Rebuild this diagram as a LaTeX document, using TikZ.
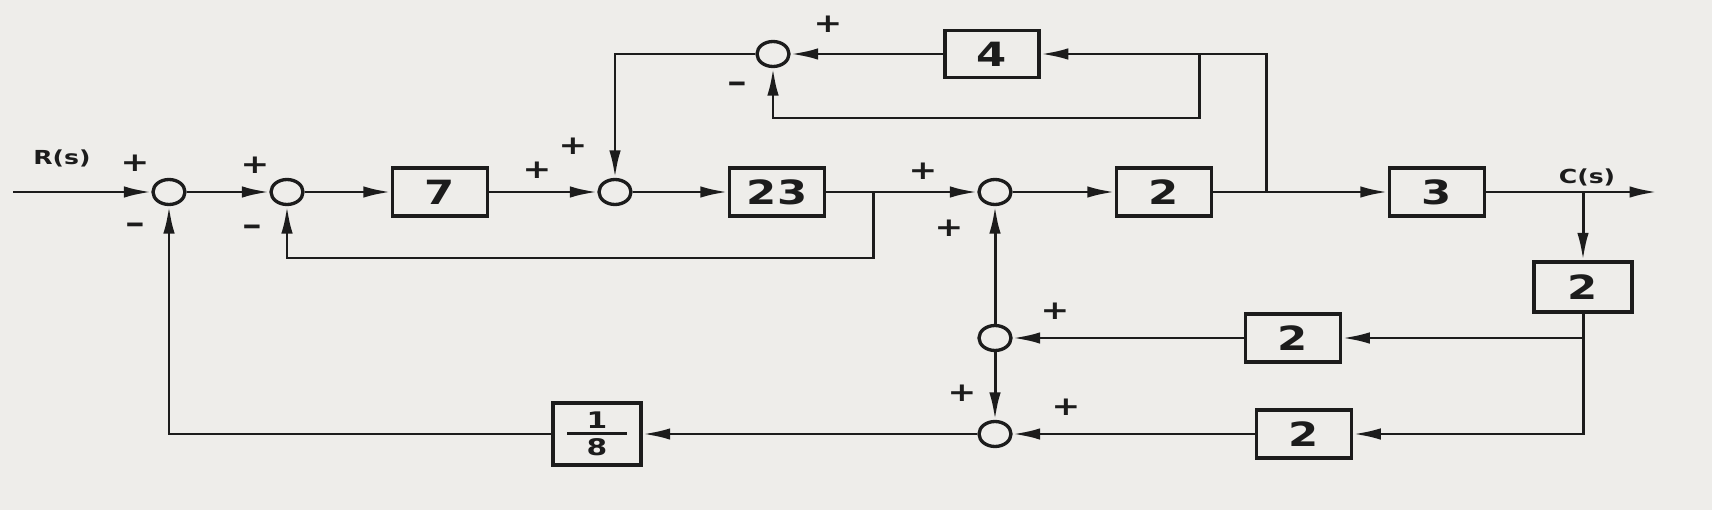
\documentclass[tikz,border=0pt]{standalone}
\usepackage{fontspec}
\setmainfont{DejaVu Sans}
\usetikzlibrary{arrows.meta,shapes.geometric}
\definecolor{paper}{RGB}{238,237,234}
\definecolor{ink}{RGB}{28,28,28}
\newcommand{\wtxt}[1]{\scalebox{1.3}[1]{#1}}
\newcommand{\wmin}{\scalebox{1.9}[1]{-}}
\begin{document}
\begin{tikzpicture}[x=0.02cm,y=-0.02cm,
  line width=1.7pt, color=ink,
  >={Latex[length=0.55cm,width=0.23cm]},
  blk/.style={draw=ink,line width=2pt,minimum width=1.9cm,minimum height=0.96cm,inner sep=0pt,font=\fontsize{19}{21}\selectfont\bfseries},
  sumj/.style={draw=ink,line width=1.9pt,ellipse,minimum width=0.64cm,minimum height=0.5cm,inner sep=0pt},
  sgn/.style={font=\fontsize{15}{15}\selectfont\bfseries,inner sep=0pt},
  lbl/.style={font=\fontsize{11}{11}\selectfont\bfseries,inner sep=0pt}]
\fill[paper] (0,0) rectangle (1712,510);
% main row
\coordinate (in) at (13,192);
\node[sumj] (s1) at (169,192) {};
\node[sumj] (s2) at (287,192) {};
\node[blk] (g7) at (440,192) {\wtxt{7}};
\node[sumj] (s3) at (615,192) {};
\node[blk] (g23) at (777,192) {\wtxt{23}};
\coordinate (b1) at (873,192);
\node[sumj] (s4) at (995,192) {};
\node[blk] (g2a) at (1164,192) {\wtxt{2}};
\coordinate (b2) at (1266,192);
\node[blk] (g3) at (1437,192) {\wtxt{3}};
\coordinate (b3) at (1583,192);
\coordinate (out) at (1657,192);
% right column
\node[blk,minimum width=1.96cm,minimum height=1cm] (g2r) at (1583,287) {\wtxt{2}};
\coordinate (b4) at (1583,338);
\node[blk] (g2m) at (1293,338) {\wtxt{2}};
\node[blk] (g2b) at (1304,434) {\wtxt{2}};
\node[sumj] (s5) at (995,338) {};
\node[sumj] (s6) at (995,434) {};
\node[blk,minimum width=1.76cm,minimum height=1.24cm] (g8) at (597,434)
  {\fontsize{13}{13}\selectfont\bfseries$\hbox to 1.2cm{\hfil\wtxt{1}\hfil}\above 1.8pt\hbox to 1.2cm{\hfil\wtxt{8}\hfil}$};
% top loop
\node[sumj] (st) at (773,54) {};
\node[blk,minimum width=1.88cm,minimum height=0.94cm] (g4) at (992,54) {\wtxt{4}};
\coordinate (c6) at (1199,54);
\coordinate (c7) at (1199,118);
% labels
\node[lbl] (lr) at (62,158) {\wtxt{R(s)}};
\node[lbl] (lc) at (1587,177) {\wtxt{C(s)}};
\node[sgn] (p1) at (135,163) {\wtxt{+}};
\node[sgn] (m1) at (135,228) {\wmin};
\node[sgn] (p2) at (255,165) {\wtxt{+}};
\node[sgn] (m2) at (252,230) {\wmin};
\node[sgn] (p3a) at (537,170) {\wtxt{+}};
\node[sgn] (p3b) at (573,146) {\wtxt{+}};
\node[sgn] (p4a) at (923,171) {\wtxt{+}};
\node[sgn] (p4b) at (949,228) {\wtxt{+}};
\node[sgn] (pt) at (828,24) {\wtxt{+}};
\node[sgn] (mt) at (737,87) {\wmin};
\node[sgn] (p5) at (1055,311) {\wtxt{+}};
\node[sgn] (p6a) at (962,393) {\wtxt{+}};
\node[sgn] (p6b) at (1066,407) {\wtxt{+}};
% connectors
\draw[->] (in) -- (s1);
\draw[->] (s1) -- (s2);
\draw[->] (s2) -- (g7);
\draw[->] (g7) -- (s3);
\draw[->] (s3) -- (g23);
\draw[->] (g23) -- (s4);
\draw[->] (s4) -- (g2a);
\draw[->] (g2a) -- (g3);
\draw[->] (g3) -- (out);
\draw[->] (b1) -- ++(0,66) -| (s2);
\draw[->] (b2) |- (g4);
\draw[->] (g4) -- (st);
\draw[->] (c6) -- (c7) -| (st);
\draw[->] (st) -| (s3);
\draw[->] (b3) -- (g2r);
\draw[->] (g2r) |- (g2b);
\draw[->] (b4) -- (g2m);
\draw[->] (g2m) -- (s5);
\draw[->] (g2b) -- (s6);
\draw[->] (s5) -- (s4);
\draw[->] (s5) -- (s6);
\draw[->] (s6) -- (g8);
\draw[->] (g8) -| (s1);
\end{tikzpicture}
\end{document}
